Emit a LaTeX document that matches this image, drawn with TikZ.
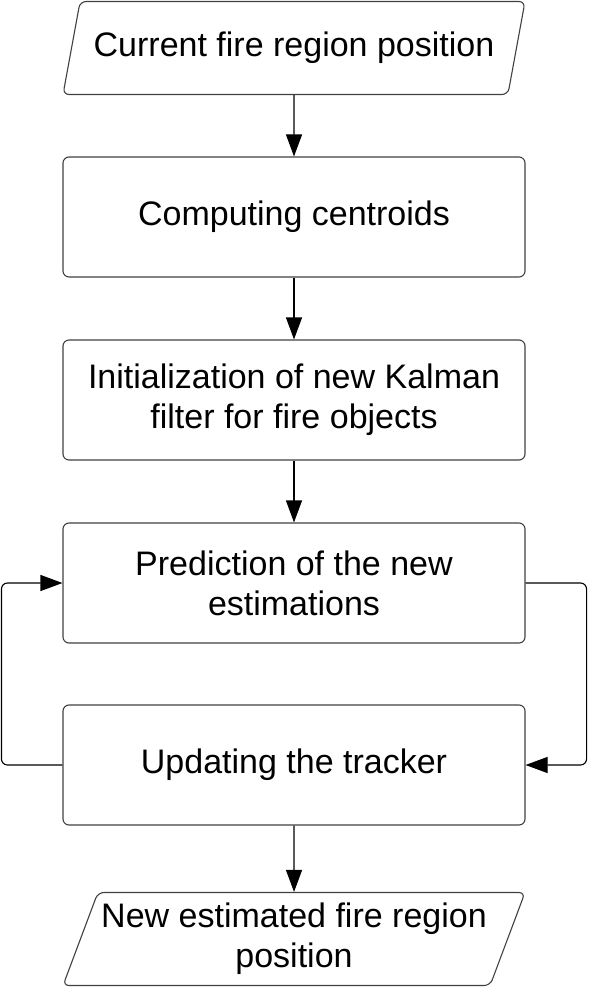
\documentclass[tikz,border=0pt]{standalone}
\usepackage{fontspec}
\setmainfont{Liberation Sans}
\usetikzlibrary{shapes.geometric,arrows.meta}
\begin{document}
\begin{tikzpicture}[
    x=1pt, y=-1pt,
    every node/.style={font=\fontsize{34}{40}\selectfont, align=center, text=black},
    box/.style={draw=black!75, line width=1.1pt, rounded corners=6pt,
        minimum width=462pt, minimum height=120pt},
    io/.style={draw=black!75, line width=1.1pt, rounded corners=6pt,
        trapezium, trapezium left angle=66, trapezium right angle=114,
        trapezium stretches body, minimum width=462pt, minimum height=93pt},
    flow/.style={line width=1.1pt, -{Triangle[length=22pt,width=16pt]}}
]
\useasboundingbox (0,0) rectangle (591,987);

% input
\node[io] (cur) at (294,48) {Current fire region position};

% steps
\node[box] (cent) at (294,217) {Computing centroids};
\node[box] (init) at (294,400) {Initialization of new Kalman\\filter for fire objects};
\node[box] (pred) at (294,583) {Prediction of the new\\estimations};
\node[box] (upd) at (294,765) {Updating the tracker};

% output
\node[io] (est) at (294,939) {New estimated fire region\\position};

\draw[flow] (cur.south) -- (cent.north);
\draw[flow] (cent.south) -- (init.north);
\draw[flow] (init.south) -- (pred.north);
\draw[flow] (upd.south) -- (est.north);

% loop
\draw[flow, rounded corners=6pt] (upd.west) -- ++(-61,0) |- (pred.west);
\draw[flow, rounded corners=6pt] (pred.east) -- ++(61,0) |- (upd.east);
\end{tikzpicture}
\end{document}
